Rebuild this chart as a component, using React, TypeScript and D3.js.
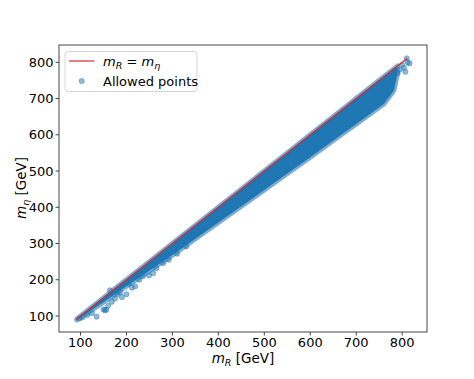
import React, { useEffect } from "react";
import * as d3 from "d3";

// Envelope of the dense "allowed points" band
const bandMR = [92, 110, 130, 150, 175, 200, 250, 300, 350, 400, 450, 500, 550, 600, 650, 700, 760, 782, 790];
const bandUpper = [92, 110, 130, 150, 175, 200, 250, 300, 350, 400, 450, 500, 550, 600, 650, 700, 760, 782, 790];
const bandLower = [89, 104, 121, 138, 160, 182, 225, 268, 313, 358, 403, 448, 493, 538, 584, 630, 685, 722, 770];

// Individually visible points (outliers and ragged ends)
const ptMR = [98, 105, 115, 125, 135, 150, 153, 156, 160, 164, 168, 175, 180, 186, 190, 200, 205, 212, 219, 228, 236, 249, 258, 265, 280, 292, 310, 330, 790, 795, 800, 804, 807, 810, 812, 816];
const ptMEta = [93, 97, 103, 108, 98, 118, 116, 117, 128, 171, 139, 148, 160, 165, 152, 160, 190, 178, 182, 200, 210, 212, 218, 232, 246, 255, 272, 292, 770, 780, 793, 785, 774, 811, 800, 797];

// Reference line m_R = m_eta
const lineMR = [90, 811];

const xTicks = [100, 200, 300, 400, 500, 600, 700, 800];
const yTicks = [100, 200, 300, 400, 500, 600, 700, 800];

const W = 474;
const H = 379;
const L = 59, T = 45, R = 427, B = 332;
const BLUE = "#1f77b4";
const FONT = "DejaVu Sans, sans-serif";

export default function App() {
  useEffect(() => {
    document.body.style.margin = "0";
  }, []);

  const x = d3.scaleLinear().domain([53.2, 854]).range([L, R]);
  const y = d3.scaleLinear().domain([55.8, 847.8]).range([B, T]);

  const bandData = bandMR.map((m, i) => ({ m, lo: bandLower[i], hi: bandUpper[i] }));
  const area = d3
    .area<{ m: number; lo: number; hi: number }>()
    .x((d) => x(d.m))
    .y0((d) => y(d.lo))
    .y1((d) => y(d.hi));
  const bandPath = area(bandData) || "";

  const line = d3.line<number>().x((d) => x(d)).y((d) => y(d));

  return (
    <svg width={W} height={H} style={{ display: "block", background: "#fff" }} fontFamily={FONT}>
      <defs>
        <clipPath id="plotclip">
          <rect x={L} y={T} width={R - L} height={B - T} />
        </clipPath>
      </defs>
      <g clipPath="url(#plotclip)">
        <path d={bandPath} fill={BLUE} stroke={BLUE} strokeOpacity={0.6} strokeWidth={5} strokeLinejoin="round" />
        {ptMR.map((m, i) => (
          <circle key={i} cx={x(m)} cy={y(ptMEta[i])} r={2.6} fill={BLUE} fillOpacity={0.5} stroke={BLUE} strokeOpacity={0.5} strokeWidth={0.8} />
        ))}
        <path d={line(lineMR) || ""} stroke="#d62728" strokeOpacity={0.85} strokeWidth={1.4} fill="none" />
      </g>
      {/* frame */}
      <rect x={L} y={T} width={R - L} height={B - T} fill="none" stroke="#333" strokeWidth={0.9} />
      {/* x ticks */}
      {xTicks.map((t) => (
        <g key={"x" + t}>
          <line x1={x(t)} x2={x(t)} y1={B} y2={B + 3.5} stroke="#333" strokeWidth={0.9} />
          <text x={x(t)} y={B + 15} fontSize={13} textAnchor="middle" fill="#000">{t}</text>
        </g>
      ))}
      {yTicks.map((t) => (
        <g key={"y" + t}>
          <line x1={L - 3.5} x2={L} y1={y(t)} y2={y(t)} stroke="#333" strokeWidth={0.9} />
          <text x={L - 5.5} y={y(t) + 4.7} fontSize={13} textAnchor="end" fill="#000">{t}</text>
        </g>
      ))}
      {/* axis labels */}
      <text x={243} y={363} fontSize={13.5} textAnchor="middle" fill="#000">
        <tspan fontStyle="italic">m</tspan>
        <tspan fontStyle="italic" fontSize={9.5} dy={3}>R</tspan>
        <tspan dy={-3}> [GeV]</tspan>
      </text>
      <text transform="translate(26,188) rotate(-90)" fontSize={13.5} textAnchor="middle" fill="#000">
        <tspan fontStyle="italic">m</tspan>
        <tspan fontStyle="italic" fontSize={9.5} dy={3}>η</tspan>
        <tspan dy={-3}> [GeV]</tspan>
      </text>
      {/* legend */}
      <rect x={65} y={51.5} width={132} height={40} rx={3} fill="#fff" fillOpacity={0.8} stroke="#d0d0d0" strokeWidth={0.9} />
      <line x1={69} x2={94} y1={61} y2={61} stroke="#d62728" strokeOpacity={0.85} strokeWidth={1.4} />
      <text x={103} y={65.5} fontSize={13} fill="#000">
        <tspan fontStyle="italic">m</tspan>
        <tspan fontStyle="italic" fontSize={9.5} dy={3}>R</tspan>
        <tspan dy={-3}> = </tspan>
        <tspan fontStyle="italic">m</tspan>
        <tspan fontStyle="italic" fontSize={9.5} dy={3}>η</tspan>
      </text>
      <circle cx={81.7} cy={81} r={2.6} fill={BLUE} fillOpacity={0.5} stroke={BLUE} strokeOpacity={0.5} strokeWidth={0.8} />
      <text x={103} y={85.5} fontSize={13} fill="#000">Allowed points</text>
    </svg>
  );
}
